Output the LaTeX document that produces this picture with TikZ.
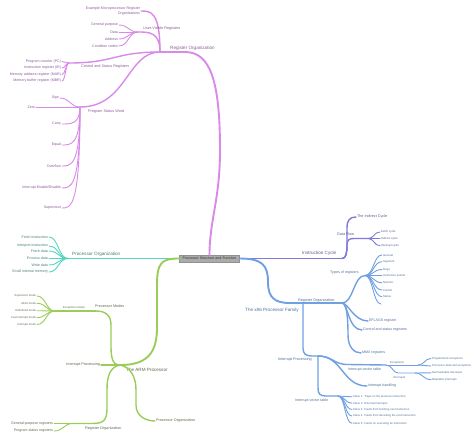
\documentclass[tikz,border=0pt]{standalone}
\usepackage{fontspec}
\setmainfont{Liberation Sans}
\usetikzlibrary{calc}
\definecolor{P}{HTML}{D98AE8}
\definecolor{Pt}{HTML}{8A5A96}
\definecolor{T}{HTML}{55D4BF}
\definecolor{Tt}{HTML}{4A7F78}
\definecolor{G}{HTML}{9ACD57}
\definecolor{Gt}{HTML}{5E6A50}
\definecolor{V}{HTML}{807ADB}
\definecolor{Vt}{HTML}{5B5896}
\definecolor{B}{HTML}{70A0E2}
\definecolor{Bt}{HTML}{4E6E98}
\definecolor{rootfill}{HTML}{ABABAB}
\newcommand\hcon[3][]{\draw[#1] let \p1=(#2), \p2=(#3) in (\p1) .. controls ({(\x1+\x2)/2},\y1) and ({(\x1+\x2)/2},\y2) .. (\p2);}
\newcommand\vcon[3][]{\draw[#1] let \p1=(#2), \p2=(#3) in (\p1) .. controls (\x1,\y2) and ({(\x1+\x2)/2},\y2) .. (\p2);}
\newcommand\leafL[7][f3]{\node[#1,text=#3t,anchor=east] (#2) at (#5,#6) {#7};\hcon[#3,l2]{#4}{#2.east}}
\newcommand\leafR[7][f3]{\node[#1,text=#3t,anchor=west] (#2) at (#5,#6) {#7};\hcon[#3,l2]{#4}{#2.west}}
\newcommand\vleafL[7][f3]{\node[#1,text=#3t,anchor=east] (#2) at (#5,#6) {#7};\vcon[#3,l2]{#4}{#2.east}}
\begin{document}
\begin{tikzpicture}[x=1pt,y=-1pt,line cap=round,
 l0/.style={line width=1.9pt}, l1/.style={line width=1.4pt}, l2/.style={line width=0.9pt},
 f1/.style={font=\fontsize{4.6}{5.2}\selectfont,inner sep=0pt},
 f2/.style={font=\fontsize{3.75}{4.3}\selectfont,inner sep=0pt},
 f3/.style={font=\fontsize{3.6}{4.2}\selectfont,inner sep=0.8pt},
 f4/.style={font=\fontsize{2.85}{3.4}\selectfont,inner sep=0.8pt}]
\useasboundingbox (0,0) rectangle (474,440);
% ---------- root
\node[fill=rootfill, draw=rootfill!85!black, line width=0.3pt, minimum width=60pt, minimum height=7pt, inner sep=0.5pt, font=\fontsize{3.6}{4}\selectfont, text=black!80] (root) at (209.5,258.5) {Processor Structure and Function};
% ---------- purple: Register Organization
\coordinate (ro) at (160,52);
\draw[P,l0] (root.north) .. controls (209.5,220) and (220,200) .. (220,150) .. controls (220,80) and (210,52) .. (185,52) -- (ro);
\node[f1,text=Pt,anchor=base west] (roL) at (170,49.6) {Register Organization};
\node[font=\fontsize{3.6}{5}\selectfont,inner sep=0.8pt,text=Pt,anchor=east,align=right] (exm) at (141,11) {Example Microprocessor Register\\Organizations};
\vcon[P,l1]{ro}{exm.east}
\coordinate (uvr) at (138,32);
\vcon[P,l1]{ro}{uvr}
\node[f2,text=Pt,anchor=base west] (uvrL) at (143,29.2) {User-Visible Registers};
\leafL{gp}{P}{uvr}{119}{25}{General purpose}
\leafL{data}{P}{uvr}{119}{32}{Data}
\leafL{addr}{P}{uvr}{119}{39}{Address}
\leafL{cc}{P}{uvr}{119}{46}{Condition codes}
\coordinate (csr) at (69,63);
\hcon[P,l1]{ro}{csr}
\node[f2,text=Pt,anchor=base west] (csrL) at (81,67.2) {Control and Status Registers};
\leafL{pc}{P}{csr}{62}{61.5}{Program counter (PC)}
\leafL{ir}{P}{csr}{62}{68}{Instruction register (IR)}
\leafL{mar}{P}{csr}{62}{74.5}{Memory address register (MAR)}
\leafL{mbr}{P}{csr}{62}{81}{Memory buffer register (MBR)}
\coordinate (psw) at (80,107);
\draw[P,l1] (ro) .. controls +(-33,0) and +(47,0) .. (psw);
\node[f2,text=Pt,anchor=base west] (pswL) at (88,112.3) {Program Status Word};
\leafL{sign}{P}{psw}{60}{98}{Sign}
\leafL{zero}{P}{psw}{36}{107}{Zero}
\vleafL{carry}{P}{psw}{62}{124}{Carry}
\vleafL{equal}{P}{psw}{62}{145}{Equal}
\vleafL{ovf}{P}{psw}{62}{166}{Overflow}
\vleafL{ied}{P}{psw}{62}{188}{Interrupt Enable/Disable}
\vleafL{sup}{P}{psw}{62}{208}{Supervisor}
% ---------- teal: Processor Organization
\coordinate (po) at (68,258.5);
\draw[T,l0] (root.west) -- (po);
\node[f1,text=Tt,anchor=base west] (poL) at (72,255.6) {Processor Organization};
\leafL{fi}{T}{po}{49}{237}{Fetch instruction}
\leafL{ii}{T}{po}{49}{246}{Interpret instruction}
\leafL{fd}{T}{po}{49}{251}{Fetch data}
\leafL{pd}{T}{po}{49}{258.5}{Process data}
\leafL{wd}{T}{po}{49}{265}{Write data}
\leafL{sim}{T}{po}{49}{272}{Small internal memory}
% ---------- green: The ARM Processor
\coordinate (arm) at (120,365);
\draw[G,l0] (root.west) .. controls (162,258.5) and (157,262) .. (157,285) -- (157,328) .. controls (157,355) and (145,365) .. (arm);
\node[f1,text=Gt,anchor=base west] (armL) at (126,371.7) {The ARM Processor};
\coordinate (pm) at (96,311);
\draw[G,l1] (arm) .. controls +(-8,0) and +(0,12) .. (111,345) -- (111,325) .. controls +(0,-11) and +(8,0) .. (pm);
\node[f2,text=Gt,anchor=base west] (pmL) at (95,307.5) {Processor Modes};
\coordinate (em) at (55,311);
\draw[G,l1] (pm) -- (em);
\node[f4,text=Gt,anchor=base west,inner sep=0pt] (emL) at (63,308) {Exception modes};
\leafL[f4]{svm}{G}{em}{37}{296}{Supervisor mode}
\leafL[f4]{abm}{G}{em}{37}{303.3}{Abort mode}
\leafL[f4]{unm}{G}{em}{37}{310.7}{Undefined mode}
\leafL[f4]{fim}{G}{em}{37}{317.7}{Fast interrupt mode}
\leafL[f4]{inm}{G}{em}{37}{324.5}{Interrupt mode}
\node[f2,text=Gt,anchor=east,inner sep=0.8pt] (ipa) at (101,365) {Interrupt Processing};
\draw[G,l1] (arm) -- (ipa.east);
\coordinate (roa) at (73,423.5);
\draw[G,l1] (arm) .. controls +(-10,2) and +(0,-14) .. (107,390) -- (107,408) .. controls +(0,12) and +(12,0) .. (92,423.5) -- (roa);
\node[f2,text=Gt,anchor=base west] (roaL) at (85,429.4) {Register Organization};
\leafL{gpr}{G}{roa}{54}{423.5}{General-purpose registers}
\leafL{psr}{G}{roa}{54}{431}{Program status registers}
\node[f2,text=Gt,anchor=west,inner sep=0.8pt] (poa) at (155,421) {Processor Organization};
\draw[G,l1] (arm) .. controls +(10,2) and +(0,-14) .. (136,390) -- (136,405) .. controls +(0,12) and +(-8,0) .. (poa.west);
% ---------- violet: Instruction Cycle
\coordinate (ic) at (342,258.5);
\draw[V,l0] (root.east) -- (ic);
\node[f1,text=Vt,anchor=base west] (icL) at (302,254.6) {Instruction Cycle};
\node[f2,text=Vt,anchor=west,inner sep=0.8pt] (tic) at (356,217) {The Indirect Cycle};
\draw[V,l1] (ic) .. controls +(4,0) and +(0,8) .. (347,245) -- (347,228) .. controls +(0,-8) and +(-6,0) .. (tic.west);
\coordinate (df) at (368,238.5);
\draw[V,l1] (ic) .. controls +(4,0) and +(0,8) .. (347,245) .. controls +(0,-5) and +(-5,0) .. (354,238.5) -- (df);
\node[f2,text=Vt,anchor=base west] (dfL) at (337,235.3) {Data Flow};
\leafR[f4]{fc}{V}{df}{380}{232}{Fetch cycle}
\leafR[f4]{inc}{V}{df}{380}{238.5}{Indirect cycle}
\leafR[f4]{irc}{V}{df}{380}{245.7}{Interrupt cycle}
% ---------- blue: x86
\coordinate (x86) at (303,303);
\draw[B,l0] (root.east) .. controls (262,258.5) and (268,265) .. (268,282) .. controls (268,298) and (275,303) .. (290,303) -- (x86);
\node[f1,text=Bt,anchor=base west] (x86L) at (245,311.6) {The x86 Processor Family};
\coordinate (ro86) at (342,303);
\draw[B,l1] (x86) -- (ro86);
\node[f2,text=Bt,anchor=base west] (ro86L) at (298,301.3) {Register Organization};
\coordinate (tr) at (365,275.5);
\hcon[B,l1]{ro86}{tr}
\node[f3,text=Bt,anchor=base west,inner sep=0pt] (trL) at (330,273.2) {Types of registers};
\leafR[f4]{rgen}{B}{tr}{382}{255}{General}
\leafR[f4]{rseg}{B}{tr}{382}{261.7}{Segment}
\leafR[f4]{rflg}{B}{tr}{382}{269.5}{Flags}
\leafR[f4]{rip}{B}{tr}{382}{275.5}{Instruction pointer}
\leafR[f4]{rnum}{B}{tr}{382}{282.7}{Numeric}
\leafR[f4]{rctl}{B}{tr}{382}{290}{Control}
\leafR[f4]{rsta}{B}{tr}{382}{296.7}{Status}
\coordinate (rblank) at (381,304);
\hcon[B,l2]{tr}{rblank}
\node[f3,text=Bt,anchor=west] (efl) at (368,321) {EFLAGS register};
\draw[B,l1] (ro86) .. controls +(6,0) and +(-14,0) .. (efl.west);
\node[f3,text=Bt,anchor=west] (csr86) at (362,330) {Control and status registers};
\draw[B,l1] (ro86) .. controls +(6,0) and +(-14,0) .. (csr86.west);
\node[f3,text=Bt,anchor=west] (mmx) at (361,353) {MMX registers};
\draw[B,l1] (ro86) .. controls +(5,0) and +(0,-16) .. (348,335) .. controls +(0,12) and +(-7,0) .. (mmx.west);
\coordinate (ip86) at (318,356);
\draw[B,l1] (x86) -- (303,348) .. controls (303,354) and (306,356) .. (312,356) -- (ip86);
\node[f2,text=Bt,anchor=base west] (ip86L) at (278,360.4) {Interrupt Processing};
\coordinate (ivt1) at (386,365);
\draw[B,l1] (ip86) .. controls +(15,0) and +(-15,0) .. (348,364.5) -- (ivt1);
\node[f3,text=Bt,anchor=base west,inner sep=0pt] (ivt1L) at (348,370.3) {Interrupt vector table};
\coordinate (exc) at (418,365);
\draw[B,l2] (ivt1) -- (exc);
\node[f4,text=Bt,anchor=base west,inner sep=0pt] (excL) at (390,363.8) {Exceptions};
\coordinate (intr) at (415,373);
\draw[B,l2] (ivt1) .. controls +(6,0) and +(-5,0) .. (398,373) -- (intr);
\node[f4,text=Bt,anchor=base west,inner sep=0pt] (intrL) at (393,378.2) {Interrupts};
\leafR[f4]{pex}{B}{exc}{431}{358.5}{Programmed exceptions}
\leafR[f4]{pdx}{B}{exc}{431}{366}{Processor-detected exceptions}
\leafR[f4]{nmi}{B}{intr}{431}{372.8}{Nonmaskable interrupts}
\leafR[f4]{mi}{B}{intr}{431}{379.6}{Maskable interrupts}
\node[f3,text=Bt,anchor=west] (ih) at (367,386) {Interrupt handling};
\hcon[B,l1]{ip86}{ih.west}
\coordinate (ivt2) at (338,396);
\draw[B,l1] (ip86) -- (318,388) .. controls +(0,6) and +(-6,0) .. (326,396) -- (ivt2);
\node[f3,text=Bt,anchor=base west,inner sep=0pt] (ivt2L) at (295,401.2) {Interrupt vector table};
\leafR[f4]{c1}{B}{ivt2}{352}{396.8}{Class 1: Traps on the previous instruction}
\leafR[f4]{c2}{B}{ivt2}{352}{403.3}{Class 2: External interrupts}
\leafR[f4]{c3}{B}{ivt2}{352}{409.4}{Class 3: Faults from fetching next instruction}
\leafR[f4]{c4}{B}{ivt2}{352}{416}{Class 4: Faults from decoding the next instruction}
\leafR[f4]{c5}{B}{ivt2}{352}{423.3}{Class 5: Faults on executing an instruction}
\end{tikzpicture}
\end{document}
